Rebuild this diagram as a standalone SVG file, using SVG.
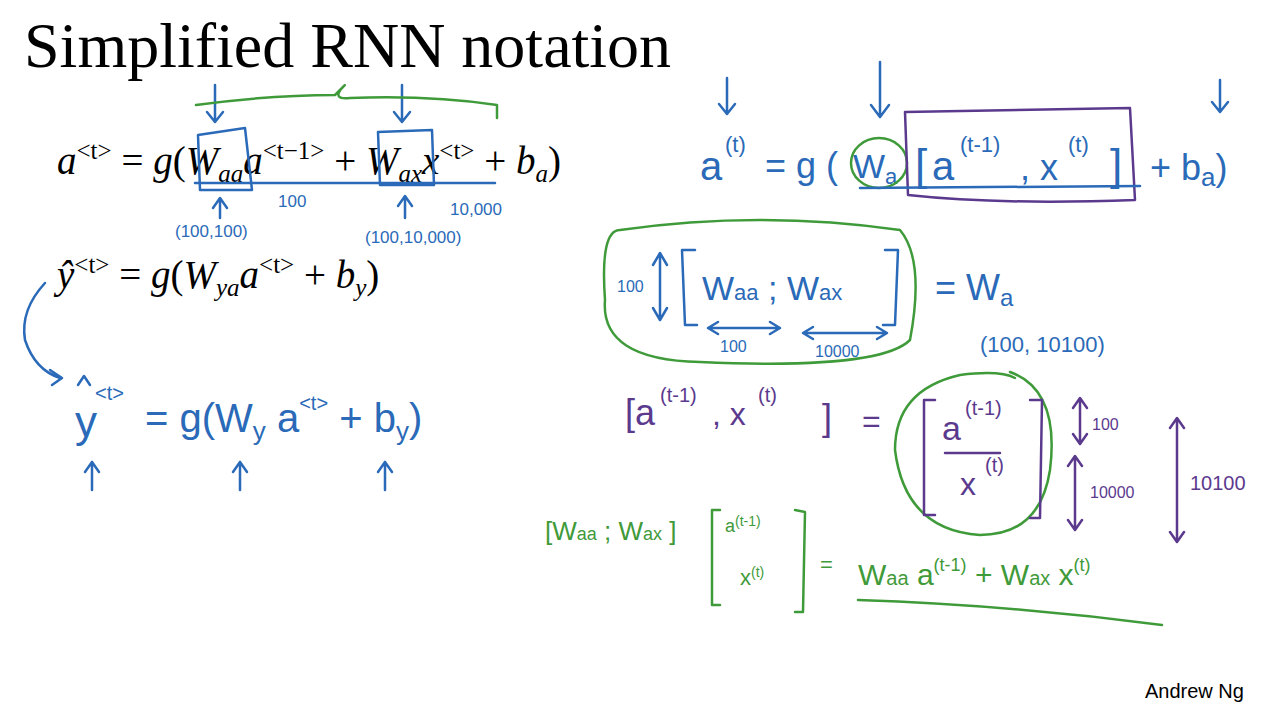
<svg xmlns="http://www.w3.org/2000/svg" width="1273" height="711" viewBox="0 0 1273 711">
<style>
.t{font-family:"Liberation Serif",serif;fill:#000}
.m{font-family:"Liberation Serif",serif;font-style:italic;font-size:39px;fill:#000}
.s{font-size:25px}
.b{fill:none;stroke:#2a6ab8;stroke-width:2.5;stroke-linecap:round;stroke-linejoin:round}
.g{fill:none;stroke:#3f9a3a;stroke-width:2.5;stroke-linecap:round;stroke-linejoin:round}
.p{fill:none;stroke:#5b3a8e;stroke-width:2.5;stroke-linecap:round;stroke-linejoin:round}
.hb{font-family:"Liberation Sans",sans-serif;fill:#2a6ab8}
.hg{font-family:"Liberation Sans",sans-serif;fill:#3f9a3a}
.hp{font-family:"Liberation Sans",sans-serif;fill:#5b3a8e}
</style>
<rect width="1273" height="711" fill="#fff"/>
<text class="t" x="24" y="67" font-size="64">Simplified RNN notation</text>
<text x="1145" y="698" font-family="Liberation Sans,sans-serif" font-size="20">Andrew Ng</text>
<g id="eq1">
<text class="m" x="57" y="174">a<tspan class="s" dy="-15" font-style="normal">&lt;t&gt;</tspan><tspan dy="15" font-style="normal"> = </tspan>g<tspan font-style="normal">(</tspan>W<tspan class="s" dy="8">aa</tspan><tspan dy="-8">a</tspan><tspan class="s" dy="-15" font-style="normal">&lt;t−1&gt;</tspan><tspan dy="15" font-style="normal"> + </tspan>W<tspan class="s" dy="8">ax</tspan><tspan dy="-8">x</tspan><tspan class="s" dy="-15" font-style="normal">&lt;t&gt;</tspan><tspan dy="15" font-style="normal"> + </tspan>b<tspan class="s" dy="8">a</tspan><tspan dy="-8" font-style="normal">)</tspan></text>
</g>
<g id="eq2">
<text class="m" x="57" y="288">ŷ<tspan class="s" dy="-15" font-style="normal">&lt;t&gt;</tspan><tspan dy="15" font-style="normal"> = </tspan>g<tspan font-style="normal">(</tspan>W<tspan class="s" dy="8">ya</tspan><tspan dy="-8">a</tspan><tspan class="s" dy="-15" font-style="normal">&lt;t&gt;</tspan><tspan dy="15" font-style="normal"> + </tspan>b<tspan class="s" dy="8">y</tspan><tspan dy="-8" font-style="normal">)</tspan></text>
</g>
<g id="ink-left">
<path class="b" d="M198 135 L245 128 L252 190 L200 190 Z"/>
<path class="b" d="M378 132 L432 130 L434 185 L380 185 Z"/>
<path class="b" d="M215 85 V120 M207 112 L215 122 L223 112"/>
<path class="b" d="M402 85 V120 M394 112 L402 122 L410 112"/>
<path class="b" d="M195 183 L495 183"/>
<path class="g" d="M196 105 Q270 95 335 95 Q350 80 342 88 Q332 100 350 98 Q430 95 497 105 V118"/>
<path class="b" d="M220 218 V200 M213 208 L220 198 L227 208"/>
<path class="b" d="M405 218 V198 M398 206 L405 196 L412 206"/>
<text class="hb" x="175" y="237" font-size="17">(100,100)</text>
<text class="hb" x="278" y="207" font-size="17">100</text>
<text class="hb" x="365" y="243" font-size="17">(100,10,000)</text>
<text class="hb" x="450" y="215" font-size="17">10,000</text>
<path class="b" d="M45 283 Q20 310 25 340 Q35 370 60 378 M50 370 L62 378 L52 385"/>
<text class="hb" x="75" y="437" font-size="44">y</text>
<path class="b" d="M78 385 L84 376 L90 385"/>
<text class="hb" x="95" y="400" font-size="20">&lt;t&gt;</text>
<text class="hb" x="145" y="432" font-size="40">= g(W<tspan font-size="26" dy="8">y</tspan><tspan dy="-8"> a</tspan><tspan font-size="20" dy="-22">&lt;t&gt;</tspan><tspan dy="22"> + b</tspan><tspan font-size="26" dy="8">y</tspan><tspan dy="-8">)</tspan></text>
<path class="b" d="M92 490 V462 M85 472 L92 462 L99 472"/>
<path class="b" d="M240 490 V462 M233 472 L240 462 L247 472"/>
<path class="b" d="M385 490 V462 M378 472 L385 462 L392 472"/>
</g>
<g id="ink-right-top">
<path class="b" d="M727 78 V112 M719 104 L727 114 L735 104"/>
<path class="b" d="M880 62 V115 M871 105 L880 117 L889 105"/>
<path class="b" d="M1220 80 V110 M1212 102 L1220 112 L1228 102"/>
<text class="hb" x="700" y="180" font-size="40">a</text>
<text class="hb" x="725" y="152" font-size="22">(t)</text>
<text class="hb" x="765" y="178" font-size="36">= g (</text>
<text class="hb" x="853" y="178" font-size="34">W<tspan font-size="22" dy="6">a</tspan></text>
<ellipse class="g" cx="879" cy="163" rx="28" ry="25"/>
<path class="p" d="M905 112 L1130 108 L1135 200 Q1000 205 908 195 Z"/>
<text class="hb" x="915" y="180" font-size="44">[</text>
<text class="hb" x="932" y="180" font-size="40">a</text>
<text class="hb" x="960" y="152" font-size="22">(t-1)</text>
<text class="hb" x="1020" y="180" font-size="36">, x</text>
<text class="hb" x="1068" y="152" font-size="22">(t)</text>
<text class="hb" x="1110" y="180" font-size="44">]</text>
<text class="hb" x="1150" y="180" font-size="36">+ b<tspan font-size="26" dy="6">a</tspan><tspan dy="-6">)</tspan></text>
<path class="b" d="M860 188 L1140 186"/>
</g>
<g id="ink-right-mid">
<path class="g" d="M620 230 Q760 210 900 230 Q925 260 910 340 Q880 370 700 362 Q600 360 605 300 Q600 230 620 230"/>
<text class="hb" x="617" y="292" font-size="16">100</text>
<path class="b" d="M660 255 V318 M653 308 L660 320 L667 308 M653 265 L660 253 L667 265"/>
<path class="b" d="M695 250 L682 250 L685 325 L697 325"/>
<path class="b" d="M885 250 L898 250 L895 325 L883 325"/>
<text class="hb" x="702" y="300" font-size="34">W<tspan font-size="22">aa</tspan> ; W<tspan font-size="22">ax</tspan></text>
<path class="b" d="M710 328 H778 M718 322 L708 328 L718 334 M770 322 L780 328 L770 334"/>
<text class="hb" x="720" y="352" font-size="16">100</text>
<path class="b" d="M805 333 H885 M813 327 L803 333 L813 339 M877 327 L887 333 L877 339"/>
<text class="hb" x="815" y="357" font-size="16">10000</text>
<text class="hb" x="935" y="300" font-size="36">= W<tspan font-size="24" dy="6">a</tspan></text>
<text class="hb" x="980" y="352" font-size="22">(100, 10100)</text>
</g>
<g id="ink-right-low">
<text class="hp" x="625" y="425" font-size="36">[a</text>
<text class="hp" x="660" y="402" font-size="20">(t-1)</text>
<text class="hp" x="712" y="425" font-size="32">, x</text>
<text class="hp" x="758" y="402" font-size="20">(t)</text>
<text class="hp" x="822" y="430" font-size="36">]</text>
<text class="hp" x="862" y="432" font-size="32">=</text>
<path class="g" d="M1010 372 Q1060 390 1050 470 Q1040 535 980 535 Q905 530 895 450 Q895 390 960 375 Q1000 370 1015 378"/>
<path class="p" d="M935 400 L924 400 L924 515 L935 515"/>
<path class="p" d="M1030 400 L1042 400 L1040 518 L1030 518"/>
<text class="hp" x="942" y="440" font-size="34">a</text>
<text class="hp" x="965" y="415" font-size="20">(t-1)</text>
<path class="p" d="M945 453 H1000"/>
<text class="hp" x="960" y="495" font-size="32">x</text>
<text class="hp" x="985" y="472" font-size="20">(t)</text>
<path class="p" d="M1080 400 V442 M1073 408 L1080 398 L1087 408 M1073 434 L1080 444 L1087 434"/>
<text class="hp" x="1092" y="430" font-size="16">100</text>
<path class="p" d="M1075 458 V528 M1068 466 L1075 456 L1082 466 M1068 520 L1075 530 L1082 520"/>
<text class="hp" x="1090" y="498" font-size="16">10000</text>
<path class="p" d="M1177 420 V540 M1170 428 L1177 418 L1184 428 M1170 532 L1177 542 L1184 532"/>
<text class="hp" x="1190" y="490" font-size="20">10100</text>
</g>
<g id="ink-bottom">
<text class="hg" x="545" y="540" font-size="26">[W<tspan font-size="18">aa</tspan> ; W<tspan font-size="18">ax</tspan> ]</text>
<path class="g" d="M720 510 L712 510 L712 605 L720 605"/>
<path class="g" d="M795 510 L805 512 L803 612 L795 612"/>
<text class="hg" x="725" y="532" font-size="18">a<tspan font-size="14" dy="-6">(t-1)</tspan></text>
<text class="hg" x="740" y="585" font-size="22">x<tspan font-size="14" dy="-8">(t)</tspan></text>
<text class="hg" x="820" y="572" font-size="22">=</text>
<text class="hg" x="858" y="585" font-size="30">W<tspan font-size="20">aa</tspan> a<tspan font-size="18" dy="-14">(t-1)</tspan><tspan dy="14"> + W</tspan><tspan font-size="20">ax</tspan> x<tspan font-size="18" dy="-14">(t)</tspan></text>
<path class="g" d="M858 600 Q1010 605 1162 625"/>
</g>
</svg>
